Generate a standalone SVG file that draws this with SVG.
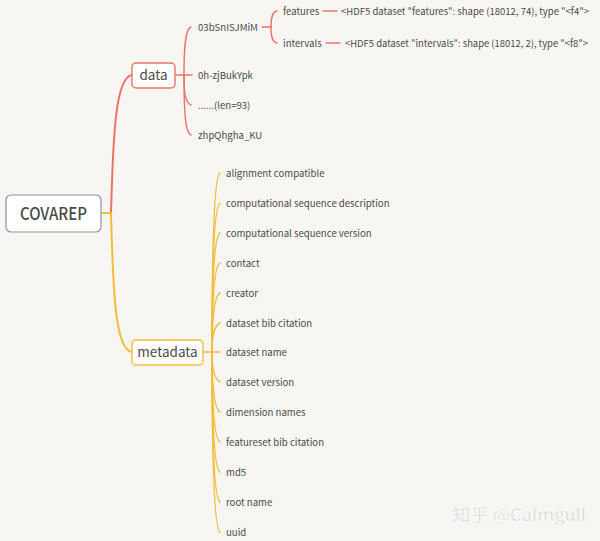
<svg xmlns="http://www.w3.org/2000/svg" width="600" height="541" viewBox="0 0 600 541">
<style>
.t{font-family:"Noto Sans CJK SC","Noto Sans",sans-serif;fill:#4a4a4a;}
.s{font-size:9.6px;}
.b{font-size:13.5px;text-anchor:middle;}
.r{fill:none;stroke:#ea7565;stroke-width:1.4;stroke-linecap:round;}
.y{fill:none;stroke:#f3bd3a;stroke-width:1.4;stroke-linecap:round;}
.wm{font-family:"Noto Sans CJK SC","Noto Sans",sans-serif;font-size:17px;fill:#d0d0d0;stroke:#ffffff;stroke-width:0.4;}
</style>
<rect width="600" height="541" fill="#f7f6f3"/>
<g id="connectors">
  <path class="y" d="M101 213 H111" style="stroke-width:2"/>
  <path class="r" d="M111 213 C113 140 115 77 132 75" style="stroke-width:2"/>
  <path class="y" d="M111 213 C113 290 115 350 132 352" style="stroke-width:2"/>
  <path class="r" d="M175 75 H184"/>
  <path class="r" d="M184 75 C184 50 185 29 191 27"/>
  <path class="r" d="M184 75 H192"/>
  <path class="r" d="M184 75 C184 92 185 103 191 105"/>
  <path class="r" d="M184 75 C184 110 185 133 191 135"/>
  <path class="r" d="M262 27 H271"/>
  <path class="r" d="M271 27 C271 18 272 12 277 11"/>
  <path class="r" d="M271 27 C271 36 272 42 277 43"/>
  <path class="r" d="M323 11 H337"/>
  <path class="r" d="M326 43 H340"/>
  <path class="y" d="M203 352 H212"/>
  <path class="y" d="M212 352 C212 260 214 176 220 173"/>
  <path class="y" d="M212 352 C212 275 214 206 220 203"/>
  <path class="y" d="M212 352 C212 290 214 236 220 233"/>
  <path class="y" d="M212 352 C212 305 214 266 220 263"/>
  <path class="y" d="M212 352 C212 320 214 296 220 293"/>
  <path class="y" d="M212 352 C212 335 214 326 220 323"/>
  <path class="y" d="M212 352 H220"/>
  <path class="y" d="M212 352 C212 369 214 379 220 382"/>
  <path class="y" d="M212 352 C212 384 214 409 220 412"/>
  <path class="y" d="M212 352 C212 399 214 439 220 442"/>
  <path class="y" d="M212 352 C212 414 214 469 220 472"/>
  <path class="y" d="M212 352 C212 429 214 499 220 502"/>
  <path class="y" d="M212 352 C212 444 214 529 220 532"/>
</g>
<g id="covarep">
  <rect x="6" y="195" width="95" height="37" rx="5" fill="#ffffff" stroke="#8e94a6" stroke-width="1.2"/>
  <text class="t" x="20" y="219.5" font-size="17" font-weight="500" fill="#333" textLength="67" lengthAdjust="spacingAndGlyphs">COVAREP</text>
</g>
<g id="data">
  <rect x="132" y="63" width="43" height="25" rx="4" fill="#ffffff" stroke="#ea7565" stroke-width="1.4"/>
  <text class="t b" x="153.5" y="80">data</text>
</g>
<g id="metadata">
  <rect x="132" y="340" width="71" height="25" rx="4" fill="#ffffff" stroke="#f3bd3a" stroke-width="1.4"/>
  <text class="t b" x="167.5" y="357">metadata</text>
</g>
<g id="n-03b"><text class="t s" x="198" y="30.5">03bSnISJMiM</text></g>
<g id="n-0h"><text class="t s" x="198" y="78.5">0h-zjBukYpk</text></g>
<g id="n-len"><text class="t s" x="198" y="108.5">......(len=93)</text></g>
<g id="n-zhp"><text class="t s" x="198" y="138.5">zhpQhgha_KU</text></g>
<g id="n-features"><text class="t s" x="283" y="14.5">features</text></g>
<g id="n-intervals"><text class="t s" x="283" y="46.5">intervals</text></g>
<g id="n-features-val"><text class="t s" x="341" y="14.5" textLength="248" lengthAdjust="spacingAndGlyphs">&lt;HDF5 dataset "features": shape (18012, 74), type "&lt;f4"&gt;</text></g>
<g id="n-intervals-val"><text class="t s" x="345" y="46.5" textLength="243" lengthAdjust="spacingAndGlyphs">&lt;HDF5 dataset "intervals": shape (18012, 2), type "&lt;f8"&gt;</text></g>
<g id="m-1"><text class="t s" x="226" y="176.5">alignment compatible</text></g>
<g id="m-2"><text class="t s" x="226" y="206.5">computational sequence description</text></g>
<g id="m-3"><text class="t s" x="226" y="236.5">computational sequence version</text></g>
<g id="m-4"><text class="t s" x="226" y="266.5">contact</text></g>
<g id="m-5"><text class="t s" x="226" y="296.5">creator</text></g>
<g id="m-6"><text class="t s" x="226" y="326.5">dataset bib citation</text></g>
<g id="m-7"><text class="t s" x="226" y="355.5">dataset name</text></g>
<g id="m-8"><text class="t s" x="226" y="385.5">dataset version</text></g>
<g id="m-9"><text class="t s" x="226" y="415.5">dimension names</text></g>
<g id="m-10"><text class="t s" x="226" y="445.5">featureset bib citation</text></g>
<g id="m-11"><text class="t s" x="226" y="475.5">md5</text></g>
<g id="m-12"><text class="t s" x="226" y="505.5">root name</text></g>
<g id="m-13"><text class="t s" x="226" y="535.5">uuid</text></g>
<text class="wm" x="452" y="521" textLength="134" lengthAdjust="spacingAndGlyphs">知乎 @Calmgull</text>
</svg>
